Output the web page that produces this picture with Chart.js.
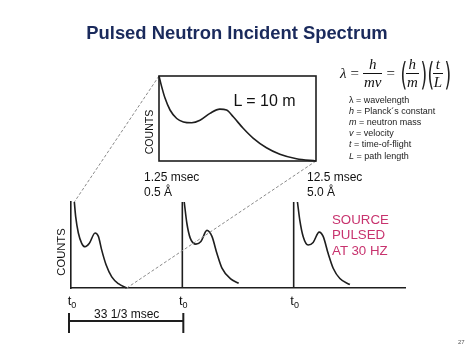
<!DOCTYPE html>
<html><head><meta charset="utf-8">
<script src="https://cdn.jsdelivr.net/npm/chart.js@4/dist/chart.umd.min.js"></script>
<style>
html,body{margin:0;padding:0;background:#fff;}
#page{position:relative;width:474px;height:355px;overflow:hidden;font-family:"Liberation Sans",Arial,sans-serif;color:#111;}
.abs{position:absolute;white-space:nowrap;line-height:1;}
canvas{position:absolute;}
.frac{display:inline-flex;flex-direction:column;align-items:center;vertical-align:middle;line-height:1.1;}
.frac .den{border-top:1px solid #111;padding:0 1px;}
.eq{margin:0 4px;font-style:normal;}
.paren{display:inline-block;font-family:"DejaVu Sans",sans-serif;font-style:normal;font-size:31px;line-height:1;font-weight:normal;transform:scale(0.55,1.05);width:7px;text-align:center;color:#222;}
</style></head><body>
<div id="page">
<canvas id="main" width="474" height="355" style="left:0;top:0;width:474px;height:355px"></canvas>
<canvas id="inset" width="190" height="110" style="left:140px;top:60px;width:190px;height:110px"></canvas>
<div id="labels"></div>
</div>
<script>
// ---- data ----
const pulseStarts = [0, 33.33, 66.67];           // ms, t0 marks
const pulse1X = [1.0,1.4,2.2,3.2,4.2,5.5,7.2,8.2,9.2,10.5,12.2,14.2,16.7];
const pulse1Y = [1.0,0.83,0.64,0.52,0.48,0.52,0.64,0.60,0.44,0.27,0.13,0.05,0.0];
const pulse2X = [33.9,34.7,35.7,37.4,38.9,40.7,42.2,43.7,45.2,47.7,50.2];
const pulse2Y = [1.0,0.75,0.58,0.51,0.54,0.67,0.60,0.40,0.23,0.11,0.055];
const pulse3X = [67.8,68.5,69.5,71.0,72.5,74.3,75.5,77.0,78.5,80.5,83.5];
const pulse3Y = [1.0,0.79,0.60,0.50,0.53,0.65,0.60,0.40,0.23,0.11,0.04];
const spectrumX = [1.25,1.44,1.68,2.04,2.52,3.00,3.60,4.19,4.90,5.61,6.09,6.57,7.28,7.99,8.95,9.91,11.1,12.5];
const spectrumY = [1.0,0.875,0.74,0.60,0.50,0.46,0.45,0.48,0.56,0.61,0.60,0.52,0.385,0.27,0.156,0.08,0.027,0.0];
const insetTimeLabels = ['1.25 msec','12.5 msec'];
const insetLambdaLabels = ['0.5 Å','5.0 Å'];
const periodLabel = '33 1/3 msec';
const axisTitle = 'COUNTS';
const titleText = 'Pulsed Neutron Incident Spectrum';
const pathLabel = 'L = 10 m';
const sourceLines = ['SOURCE','PULSED','AT 30 HZ'];
const legendLines = ['λ = wavelength','<i>h</i> = Planck´s constant','<i>m</i> = neutron mass','<i>v</i> = velocity','<i>t</i> = time-of-flight','<i>L</i> = path length'];

const INK = '#1e1e1e';
const pts = (xs, ys) => xs.map((x, i) => ({x, y: ys[i]}));
const curve = (xs, ys) => ({data: pts(xs, ys), showLine: true, borderColor: INK, borderWidth: 1.6,
  pointRadius: 0, cubicInterpolationMode: 'monotone', clip: false, fill: false});
const vline = (x) => ({data: [{x, y: 0}, {x, y: 1}], showLine: true, borderColor: INK, borderWidth: 1.6,
  pointRadius: 0, tension: 0, clip: false});
const noAxis = {ticks: {display: false}, grid: {display: false, drawTicks: false}};

// ---- inset chart ----
const boxPlugin = {id: 'box', afterDatasetsDraw(c) {
  const a = c.chartArea, g = c.ctx;
  g.save(); g.strokeStyle = INK; g.lineWidth = 1.6;
  g.strokeRect(a.left, a.top, a.right - a.left, a.bottom - a.top); g.restore();
}};
const inset = new Chart(document.getElementById('inset'), {
  type: 'scatter',
  data: {datasets: [curve(spectrumX, spectrumY)]},
  options: {responsive: false, animation: false, devicePixelRatio: 1,
    layout: {padding: {left: 19, top: 16, right: 14, bottom: 9}},
    plugins: {legend: {display: false}, tooltip: {enabled: false}},
    scales: {x: {type: 'linear', min: 1.25, max: 12.5, display: false},
             y: {type: 'linear', min: 0, max: 1, display: false}}},
  plugins: [boxPlugin]
});

// ---- main chart ----
const insetOff = {x: 140, y: 60};
const overlay = {id: 'overlay', afterDatasetsDraw(c) {
  const g = c.ctx, xs = c.scales.x, ys = c.scales.y, ia = inset.chartArea;
  g.save();
  g.strokeStyle = '#8a8a8a'; g.lineWidth = 1; g.setLineDash([3, 2]);
  const p0 = pts(pulse1X, pulse1Y)[0], pN = pts(pulse1X, pulse1Y)[pulse1X.length - 1];
  g.beginPath();
  g.moveTo(insetOff.x + ia.left, insetOff.y + ia.top);
  g.lineTo(xs.getPixelForValue(p0.x), ys.getPixelForValue(p0.y));
  g.moveTo(insetOff.x + ia.right, insetOff.y + ia.bottom);
  g.lineTo(xs.getPixelForValue(pN.x), ys.getPixelForValue(pN.y));
  g.stroke();
  // period bracket
  g.setLineDash([]); g.strokeStyle = INK; g.lineWidth = 2;
  const xa = xs.getPixelForValue(pulseStarts[0]) - 2, xb = xs.getPixelForValue(pulseStarts[1]) + 1;
  const yb = c.chartArea.bottom + 33;
  g.beginPath();
  g.moveTo(xa, yb); g.lineTo(xb, yb);
  g.moveTo(xa, yb - 8); g.lineTo(xa, yb + 12);
  g.moveTo(xb, yb - 8); g.lineTo(xb, yb + 12);
  g.stroke();
  g.restore();
}};
const main = new Chart(document.getElementById('main'), {
  type: 'scatter',
  data: {datasets: [curve(pulse1X, pulse1Y), curve(pulse2X, pulse2Y), curve(pulse3X, pulse3Y),
    vline(pulseStarts[1]), vline(pulseStarts[2])]},
  options: {responsive: false, animation: false, devicePixelRatio: 1,
    layout: {padding: {left: 71, top: 202, right: 69, bottom: 67}},
    plugins: {legend: {display: false}, tooltip: {enabled: false}},
    scales: {
      x: Object.assign({type: 'linear', min: 0, max: 100, border: {display: true, color: INK, width: 1.6}}, noAxis),
      y: Object.assign({type: 'linear', min: 0, max: 1, border: {display: true, color: INK, width: 1.6}}, noAxis)
    }},
  plugins: [overlay]
});

// ---- text ----
const L = document.getElementById('labels');
function add(html, x, y, style, anchor) {
  const d = document.createElement('div');
  d.className = 'abs'; d.innerHTML = html;
  d.style.left = x + 'px'; d.style.top = y + 'px';
  d.style.transform = anchor === 'c' ? 'translate(-50%,-50%)' : 'translate(0,-50%)';
  Object.assign(d.style, style || {});
  L.appendChild(d); return d;
}
add(titleText, 237, 33, {fontSize: '18.4px', fontWeight: 'bold', color: '#1a2a5c'}, 'c');
// formula
add('<span style="display:inline-flex;align-items:center;">' +
  '<i>λ</i><span class="eq">=</span><span class="frac"><i>h</i><span class="den"><i>mv</i></span></span><span class="eq">=</span>' +
  '<span class="paren">(</span><span class="frac"><i>h</i><span class="den"><i>m</i></span></span><span class="paren">)</span>' +
  '<span class="paren">(</span><span class="frac"><i>t</i><span class="den"><i>L</i></span></span><span class="paren">)</span></span>',
  340, 73, {fontFamily: '"Liberation Serif",serif', fontSize: '15px', color: '#111'});
legendLines.forEach((t, i) => add(t, 349, 100 + i * 11.1, {fontSize: '9px', color: '#222'}));
add(pathLabel, 264.5, 101, {fontSize: '16px'}, 'c');
add(axisTitle, 149, 132, {fontSize: '10.6px', transform: 'translate(-50%,-50%) rotate(-90deg)'}, 'c');
add(insetTimeLabels[0], 144, 177, {fontSize: '12px'});
add(insetLambdaLabels[0], 144, 192, {fontSize: '12px'});
add(insetTimeLabels[1], 307, 177, {fontSize: '12px'});
add(insetLambdaLabels[1], 307, 192, {fontSize: '12px'});
add(axisTitle, 62, 252, {fontSize: '11.2px', transform: 'translate(-50%,-50%) rotate(-90deg)'}, 'c');
const mx = main.scales.x;
pulseStarts.forEach(v => add('t<sub style="font-size:9px;vertical-align:-3px">0</sub>', mx.getPixelForValue(v) + 1, 302, {fontSize: '13px'}, 'c'));
add(periodLabel, (mx.getPixelForValue(pulseStarts[0]) + mx.getPixelForValue(pulseStarts[1])) / 2, 313.5, {fontSize: '12px'}, 'c');
sourceLines.forEach((t, i) => add(t, 332, 219.5 + i * 15.8, {fontSize: '13.3px', color: '#c8336e'}));
add('27', 458, 342, {fontSize: '6px', color: '#555'});
</script>
</body></html>
